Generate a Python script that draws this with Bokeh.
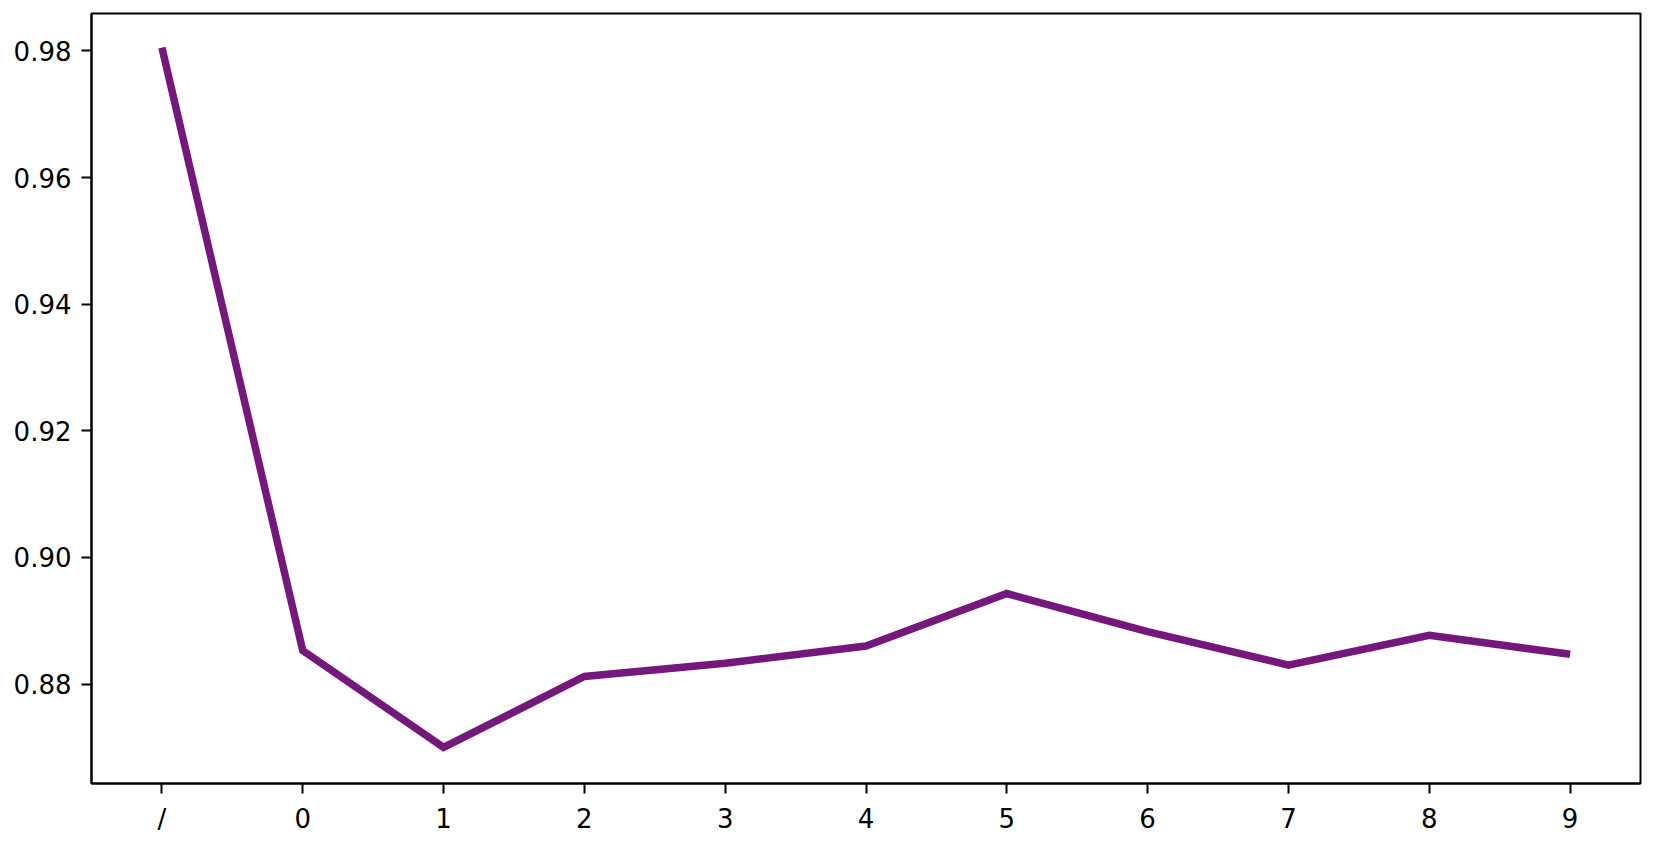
from bokeh.plotting import figure
from bokeh.models import FactorRange, Range1d, FixedTicker, NumeralTickFormatter
from bokeh.embed import file_html
from bokeh.resources import INLINE

labels = ["/", "0", "1", "2", "3", "4", "5", "6", "7", "8", "9"]
values = [0.9805, 0.8853, 0.8700, 0.8812, 0.8833, 0.8860, 0.8943, 0.8883, 0.8830, 0.8877, 0.8847]
y_ticks = [0.88, 0.90, 0.92, 0.94, 0.96, 0.98]

p = figure(
    x_range=FactorRange(factors=labels, range_padding=0),
    y_range=Range1d(0.8643, 0.9859),
    frame_width=1549, frame_height=770,
    min_border_left=91, min_border_top=13, min_border_right=5, min_border_bottom=50,
    output_backend="svg", toolbar_location=None,
)
p.line(x=labels, y=values, line_color="#75187c", line_width=7.5, line_join="miter")

p.xgrid.visible = False
p.ygrid.visible = False
p.outline_line_color = "black"
p.outline_line_width = 2
p.outline_line_alpha = 1

p.yaxis.ticker = FixedTicker(ticks=y_ticks)
p.yaxis.formatter = NumeralTickFormatter(format="0.00")

for ax in (p.xaxis[0], p.yaxis[0]):
    ax.axis_line_color = "black"
    ax.axis_line_width = 2
    ax.major_tick_line_color = "black"
    ax.major_tick_line_width = 2
    ax.major_tick_in = 0
    ax.major_tick_out = 10
    ax.minor_tick_line_color = None
    ax.major_label_text_font = "DejaVu Sans"
    ax.major_label_text_font_size = "26px"
    ax.major_label_text_color = "black"
    ax.major_label_standoff = 10

open("out.html", "w").write(file_html(p, INLINE))
